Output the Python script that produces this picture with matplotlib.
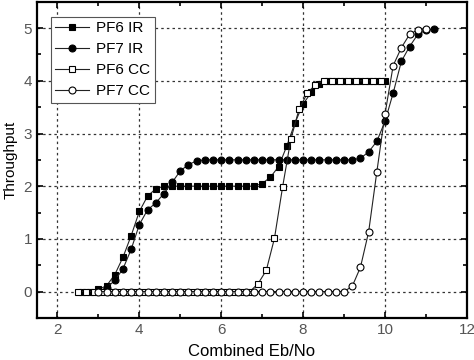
import matplotlib
matplotlib.use("Agg")
import matplotlib.pyplot as plt
from matplotlib.ticker import MultipleLocator

plt.rcParams["font.family"] = ["Liberation Sans", "DejaVu Sans"]

# PF6 IR (filled squares)
pf6_ir_x = [2.6, 2.8, 3.0, 3.2, 3.4, 3.6, 3.8, 4.0, 4.2, 4.4, 4.6, 4.8, 5.0, 5.2,
            5.4, 5.6, 5.8, 6.0, 6.2, 6.4, 6.6, 6.8, 7.0, 7.2, 7.4, 7.6, 7.8, 8.0,
            8.2, 8.4, 8.6, 8.8, 9.0, 9.2, 9.4, 9.6, 9.8, 10.0]
pf6_ir_y = [0, 0, 0.04, 0.11, 0.32, 0.65, 1.06, 1.52, 1.81, 1.95, 2.0, 2.0, 2.0, 2.0,
            2.0, 2.0, 2.0, 2.0, 2.0, 2.0, 2.0, 2.0, 2.05, 2.17, 2.37, 2.76, 3.2, 3.56,
            3.78, 3.94, 4.0, 4.0, 4.0, 4.0, 4.0, 4.0, 4.0, 4.0]

# PF7 IR (filled circles)
pf7_ir_x = [3.0, 3.2, 3.4, 3.6, 3.8, 4.0, 4.2, 4.4, 4.6, 4.8, 5.0, 5.2, 5.4, 5.6,
            5.8, 6.0, 6.2, 6.4, 6.6, 6.8, 7.0, 7.2, 7.4, 7.6, 7.8, 8.0, 8.2, 8.4,
            8.6, 8.8, 9.0, 9.2, 9.4, 9.6, 9.8, 10.0, 10.2, 10.4, 10.6, 10.8, 11.0, 11.2]
pf7_ir_y = [0.01, 0.07, 0.21, 0.43, 0.8, 1.27, 1.55, 1.68, 1.86, 2.07, 2.29, 2.41, 2.48, 2.5,
            2.5, 2.5, 2.5, 2.5, 2.5, 2.5, 2.5, 2.5, 2.5, 2.5, 2.5, 2.5, 2.5, 2.5,
            2.5, 2.5, 2.5, 2.5, 2.53, 2.65, 2.85, 3.23, 3.77, 4.37, 4.65, 4.88, 4.96, 4.99]

# PF6 CC (hollow squares)
pf6_cc_x = [2.5, 2.7, 2.9, 3.1, 3.3, 3.5, 3.7, 3.9, 4.1, 4.3, 4.5, 4.7, 4.9, 5.1,
            5.3, 5.5, 5.7, 5.9, 6.1, 6.3, 6.5, 6.7, 6.9, 7.1, 7.3, 7.5, 7.7, 7.9,
            8.1, 8.3, 8.5, 8.7, 8.9, 9.1, 9.3, 9.5, 9.7, 9.9]
pf6_cc_y = [0, 0, 0, 0, 0, 0, 0, 0, 0, 0, 0, 0, 0, 0,
            0, 0, 0, 0, 0, 0, 0, 0, 0.15, 0.4, 1.01, 1.99, 2.89, 3.46,
            3.76, 3.93, 4.0, 4.0, 4.0, 4.0, 4.0, 4.0, 4.0, 4.0]

# PF7 CC (hollow circles)
pf7_cc_x = [3.0, 3.2, 3.4, 3.6, 3.8, 4.0, 4.2, 4.4, 4.6, 4.8, 5.0, 5.2, 5.4, 5.6,
            5.8, 6.0, 6.2, 6.4, 6.6, 6.8, 7.0, 7.2, 7.4, 7.6, 7.8, 8.0, 8.2, 8.4,
            8.6, 8.8, 9.0, 9.2, 9.4, 9.6, 9.8, 10.0, 10.2, 10.4, 10.6, 10.8, 11.0]
pf7_cc_y = [0, 0, 0, 0, 0, 0, 0, 0, 0, 0, 0, 0, 0, 0,
            0, 0, 0, 0, 0, 0, 0, 0, 0, 0, 0, 0, 0, 0,
            0, 0, 0, 0.1, 0.46, 1.13, 2.27, 3.37, 4.29, 4.63, 4.88, 4.97, 4.99]

fig = plt.figure(figsize=(4.74, 3.6), dpi=100)
ax = fig.add_axes([0.078, 0.117, 0.907, 0.878])

line_kw = dict(color="#222222", linewidth=0.8, markersize=5, markeredgewidth=0.8,
               markeredgecolor="black")
ax.plot(pf6_ir_x, pf6_ir_y, marker="s", markerfacecolor="black", label="PF6 IR", **line_kw)
ax.plot(pf7_ir_x, pf7_ir_y, marker="o", markerfacecolor="black", label="PF7 IR", **line_kw)
ax.plot(pf6_cc_x, pf6_cc_y, marker="s", markerfacecolor="white", label="PF6 CC", **line_kw)
ax.plot(pf7_cc_x, pf7_cc_y, marker="o", markerfacecolor="white", label="PF7 CC", **line_kw)

ax.set_xlim(1.5, 12)
ax.set_ylim(-0.5, 5.5)
ax.xaxis.set_major_locator(MultipleLocator(2))
ax.xaxis.set_minor_locator(MultipleLocator(1))
ax.yaxis.set_major_locator(MultipleLocator(1))
ax.yaxis.set_minor_locator(MultipleLocator(0.5))

ax.grid(True, which="major", color="#333333", linestyle=(0, (2, 2.5)), linewidth=0.9)
ax.tick_params(which="both", direction="in", top=True, right=True, labelsize=11,
               labelcolor="#555555", width=1.2)
ax.tick_params(which="major", length=4)
ax.tick_params(which="minor", length=3)
for sp in ax.spines.values():
    sp.set_linewidth(1.6)

ax.set_xlabel("Combined Eb/No", fontsize=12, labelpad=5)
ax.set_ylabel("Throughput", fontsize=11, labelpad=4)

leg = ax.legend(loc="upper left", bbox_to_anchor=(0.014, 0.977), fontsize=11,
                fancybox=False, framealpha=1, edgecolor="#555555",
                handlelength=2.2, borderpad=0.3, labelspacing=0.45, handletextpad=0.5)
leg.get_frame().set_linewidth(0.8)

fig.savefig("out.png", dpi=100)
